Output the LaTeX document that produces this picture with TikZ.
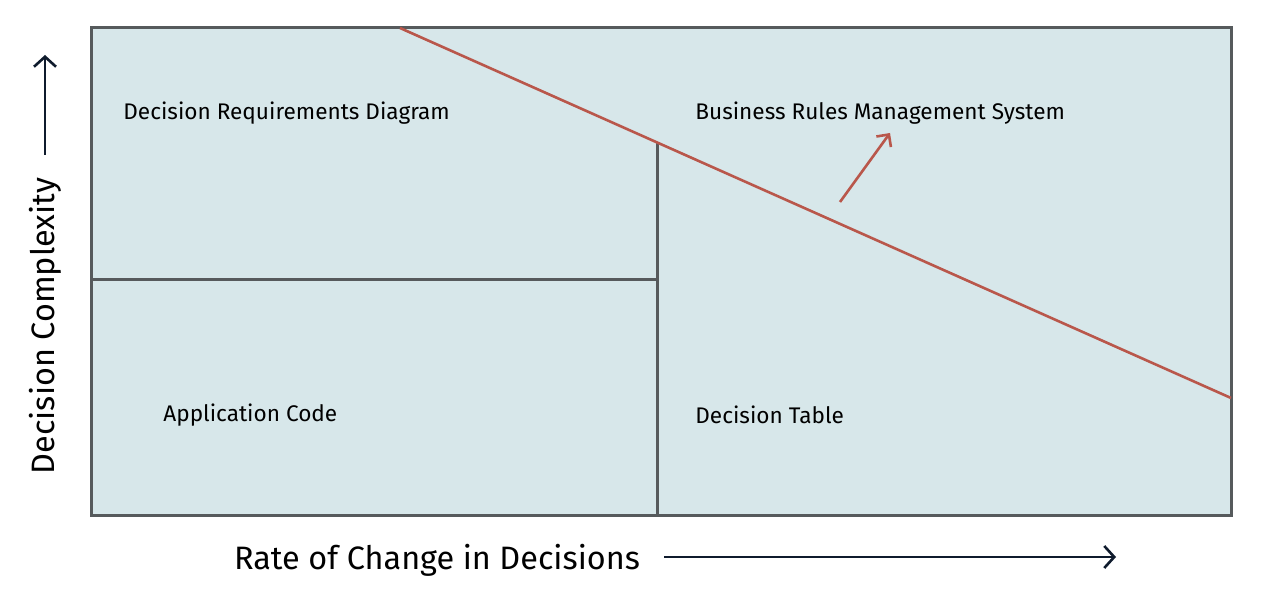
\documentclass[tikz,border=0pt]{standalone}
\usepackage{fontspec}
\setmainfont{Fira Sans}
\usepackage{tikz}
\usetikzlibrary{arrows.meta}
\definecolor{panel}{HTML}{D7E7EA}
\definecolor{frame}{HTML}{565A5C}
\definecolor{trend}{HTML}{B9574B}
\definecolor{axisnavy}{HTML}{0F1B2D}
\tikzset{
quadrant/.style={anchor=west, inner sep=0pt, font=\fontsize{11.3}{13}\selectfont, text=black},
axislabel/.style={font=\fontsize{16.2}{19}\selectfont, text=black},
axisarrow/.style={draw=axisnavy, line width=1.3pt, -{Straight Barb[length=5pt,width=11pt]}},
divider/.style={draw=frame, line width=1.5pt}}

\begin{document}
\begin{tikzpicture}[x=0.5pt,y=-0.5pt]
    \useasboundingbox (0,0) rectangle (1280,592);

    % outer panel
    \draw[divider, fill=panel] (91,28) rectangle (1231,516);
    \coordinate (T) at (657,143);
    \coordinate (B) at (657,516);
    \coordinate (L) at (91,280);
    \coordinate (M) at (657,280);
    \draw[divider] (T) -- (B);
    \draw[divider] (L) -- (M);

    % trend line
    \coordinate (R1) at (400,28);
    \coordinate (R2) at (1231,398);
    \coordinate (P) at (840,202);
    \coordinate (Q) at (890,133);
    \draw[trend, line width=1.3pt] (R1) -- (R2);
    \draw[trend, line width=1.3pt, -{Straight Barb[length=4.5pt,width=9pt]}] (P) -- (Q);

    % quadrant labels
    \node[quadrant] (drd) at (123,113) {Decision Requirements Diagram};
    \node[quadrant] (brms) at (695,113) {Business Rules Management System};
    \node[quadrant] (app) at (163,415) {Application Code};
    \node[quadrant] (dt) at (695,415) {Decision Table};

    % axes
    \node[axislabel] (xlab) at (437,560) {Rate of Change in Decisions};
    \coordinate (X1) at (664,557);
    \coordinate (X2) at (1116,557);
    \draw[axisarrow] (X1) -- (X2);
    \node[axislabel, rotate=90] (ylab) at (45,326) {Decision Complexity};
    \coordinate (Y1) at (45,155);
    \coordinate (Y2) at (45,55);
    \draw[axisarrow] (Y1) -- (Y2);

\end{tikzpicture}
\end{document}
